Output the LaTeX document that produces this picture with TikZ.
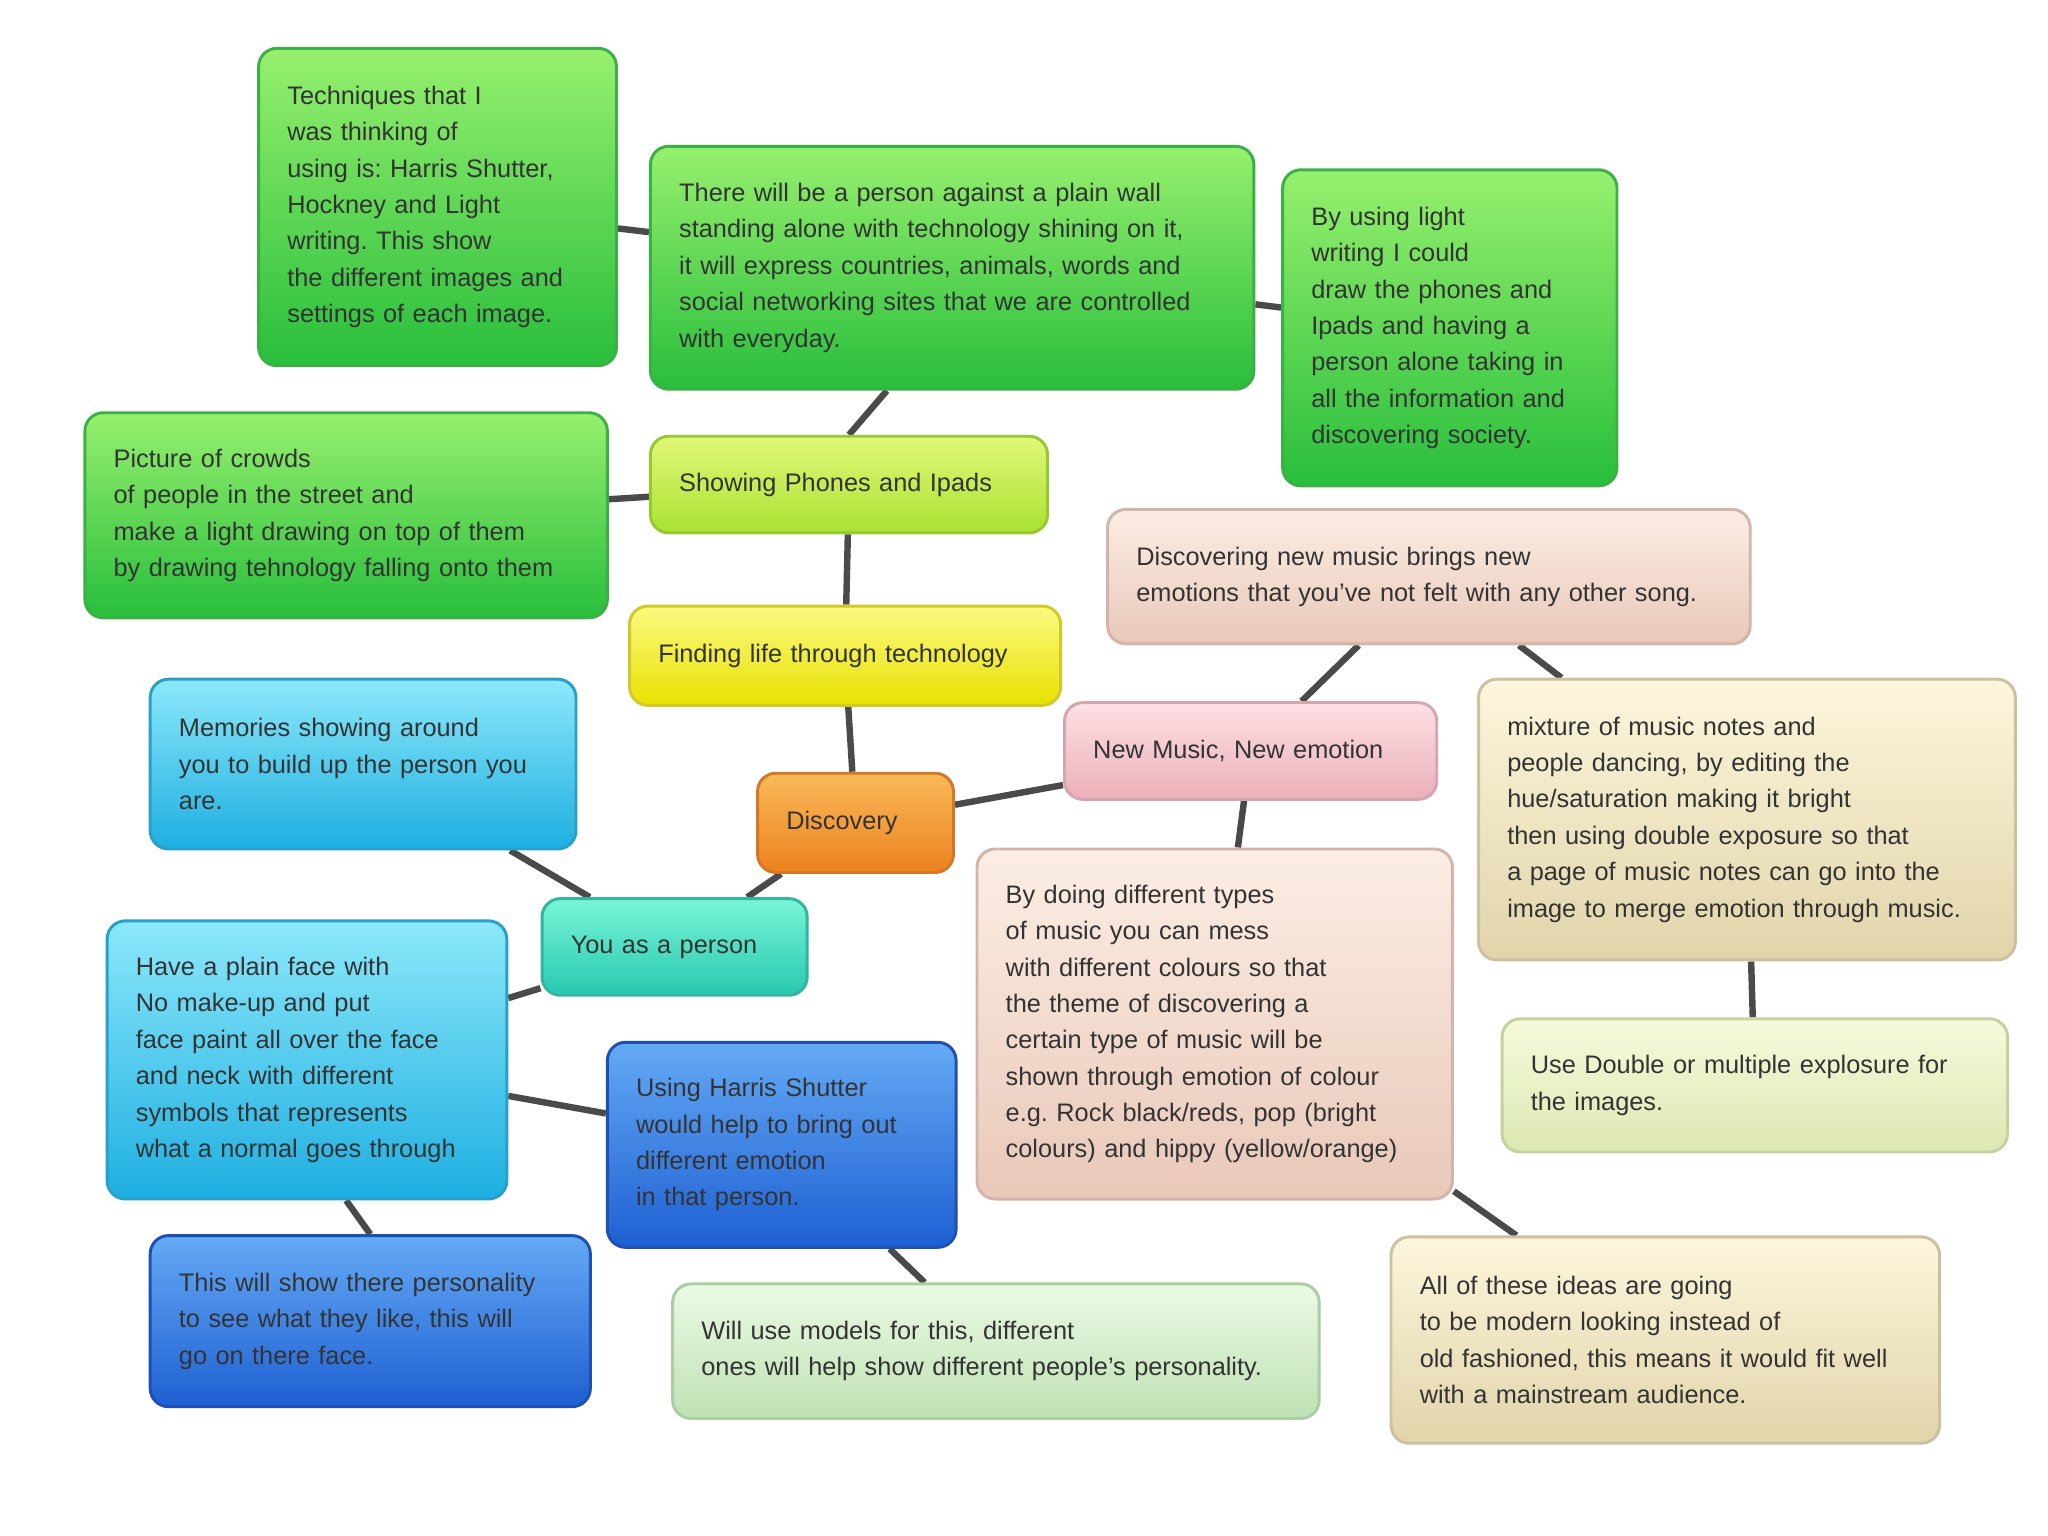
\documentclass[tikz,border=0pt]{standalone}
\usepackage{fontspec}
\setmainfont{Liberation Sans}
\usetikzlibrary{backgrounds}
\definecolor{edge}{HTML}{4A4A4A}
\tikzset{
 box/.style={draw, line width=1.6pt, rounded corners=0.35cm, align=left, inner xsep=0.55cm, inner ysep=2pt,
   font=\fontsize{13.8}{19.8}\selectfont\frenchspacing, text=black!80},
 grn/.style={top color={rgb,255:red,150;green,240;blue,110}, bottom color={rgb,255:red,40;green,190;blue,60}, draw={rgb,255:red,60;green,175;blue,70}},
 yg/.style={top color={rgb,255:red,225;green,248;blue,120}, bottom color={rgb,255:red,170;green,225;blue,50}, draw={rgb,255:red,150;green,200;blue,50}},
 yel/.style={top color={rgb,255:red,250;green,250;blue,130}, bottom color={rgb,255:red,232;green,225;blue,0}, draw={rgb,255:red,210;green,200;blue,40}},
 org/.style={top color={rgb,255:red,250;green,185;blue,90}, bottom color={rgb,255:red,235;green,130;blue,30}, draw={rgb,255:red,210;green,120;blue,40}},
 cyn/.style={top color={rgb,255:red,140;green,232;blue,250}, bottom color={rgb,255:red,30;green,175;blue,225}, draw={rgb,255:red,40;green,160;blue,200}},
 tea/.style={top color={rgb,255:red,120;green,245;blue,215}, bottom color={rgb,255:red,40;green,200;blue,175}, draw={rgb,255:red,50;green,180;blue,160}},
 blu/.style={top color={rgb,255:red,100;green,170;blue,245}, bottom color={rgb,255:red,30;green,95;blue,210}, draw={rgb,255:red,30;green,80;blue,180}},
 pgr/.style={top color={rgb,255:red,235;green,250;blue,228}, bottom color={rgb,255:red,190;green,225;blue,180}, draw={rgb,255:red,170;green,205;blue,165}},
 pnk/.style={top color={rgb,255:red,252;green,225;blue,228}, bottom color={rgb,255:red,235;green,175;blue,185}, draw={rgb,255:red,215;green,165;blue,175}},
 pch/.style={top color={rgb,255:red,252;green,238;blue,228}, bottom color={rgb,255:red,232;green,200;blue,185}, draw={rgb,255:red,210;green,180;blue,170}},
 pyl/.style={top color={rgb,255:red,252;green,246;blue,220}, bottom color={rgb,255:red,225;green,212;blue,170}, draw={rgb,255:red,205;green,192;blue,160}},
 pyg/.style={top color={rgb,255:red,246;green,250;blue,220}, bottom color={rgb,255:red,220;green,232;blue,178}, draw={rgb,255:red,195;green,210;blue,160}},
 con/.style={draw=edge, line width=3.5pt}
}
\newcommand\bx[7]{%
 \pgfmathsetmacro\bw{(#4-#2)*0.025}\pgfmathsetmacro\bh{(#5-#3)*0.025}\pgfmathsetmacro\tw{(#4-#2-44)*0.025}%
 \node[box,#6,minimum width=\bw cm,minimum height=\bh cm,text width=\tw cm] (#1) at ({(#2+#4)/2},{(#3+#5)/2}) {#7};}
\begin{document}
\begin{tikzpicture}[x=0.025cm,y=-0.025cm]
\useasboundingbox (0,0) rectangle (1568,1176);
\bx{tech}{198}{37}{472}{280}{grn}{Techniques that I\\was thinking of\\using is: Harris Shutter,\\Hockney and Light\\writing. This show\\the different images and\\settings of each image.}
\bx{there}{498}{112}{960}{298}{grn}{There will be a person against a plain wall\\standing alone with technology shining on it,\\it will express countries, animals, words and\\social networking sites that we are controlled\\with everyday.}
\bx{byl}{982}{130}{1238}{372}{grn}{By using light\\writing I could\\draw the phones and\\Ipads and having a\\person alone taking in\\all the information and\\discovering society.}
\bx{pic}{65}{316}{465}{473}{grn}{Picture of crowds\\of people in the street and\\make a light drawing on top of them\\by drawing tehnology falling onto them}
\bx{show}{498}{334}{802}{408}{yg}{Showing Phones and Ipads}
\bx{find}{482}{464}{812}{540}{yel}{Finding life through technology}
\bx{disc}{580}{592}{730}{668}{org}{Discovery}
\bx{mem}{115}{520}{441}{650}{cyn}{Memories showing around\\you to build up the person you\\are.}
\bx{you}{415}{688}{618}{762}{tea}{You as a person}
\bx{face}{82}{705}{388}{918}{cyn}{Have a plain face with\\No make-up and put\\face paint all over the face\\and neck with different\\symbols that represents\\what a normal goes through}
\bx{pers}{115}{946}{452}{1077}{blu}{This will show there personality\\to see what they like, this will\\go on there face.}
\bx{harr}{465}{798}{732}{955}{blu}{Using Harris Shutter\\would help to bring out\\different emotion\\in that person.}
\bx{mod}{515}{983}{1010}{1086}{pgr}{Will use models for this, different\\ones will help show different people's personality.}
\bx{newm}{815}{538}{1100}{612}{pnk}{New Music, New emotion}
\bx{dnm}{848}{390}{1340}{493}{pch}{Discovering new music brings new\\emotions that you've not felt with any other song.}
\bx{bydo}{748}{650}{1112}{918}{pch}{By doing different types\\of music you can mess\\with different colours so that\\the theme of discovering a\\certain type of music will be\\shown through emotion of colour\\e.g. Rock black/reds, pop (bright\\colours) and hippy (yellow/orange)}
\bx{mix}{1132}{520}{1543}{735}{pyl}{mixture of music notes and\\people dancing, by editing the\\hue/saturation making it bright\\then using double exposure so that\\a page of music notes can go into the\\image to merge emotion through music.}
\bx{dbl}{1150}{780}{1537}{882}{pyg}{Use Double or multiple explosure for\\the images.}
\bx{all}{1065}{947}{1485}{1105}{pyl}{All of these ideas are going\\to be modern looking instead of\\old fashioned, this means it would fit well\\with a mainstream audience.}
\begin{pgfonlayer}{background}
\draw[con] (tech) -- (there);
\draw[con] (there) -- (byl);
\draw[con] (there.south) ++(-50,0) -- (show.north);
\draw[con] (pic) -- (show);
\draw[con] (show) -- (find);
\draw[con] (find) -- (disc);
\draw[con] (disc) -- (newm);
\draw[con] (disc) -- (you);
\draw[con] (mem) -- (you);
\draw[con] (you) -- (face);
\draw[con] (face.south) ++(30,0) -- (pers.north);
\draw[con] (face) -- (harr);
\draw[con] (harr) -- (mod);
\draw[con] (newm) -- (dnm);
\draw[con] (dnm) -- (mix);
\draw[con] (newm) -- (bydo);
\draw[con] (mix) -- (dbl);
\draw[con] (bydo) -- (all);
\end{pgfonlayer}
\end{tikzpicture}
\end{document}
